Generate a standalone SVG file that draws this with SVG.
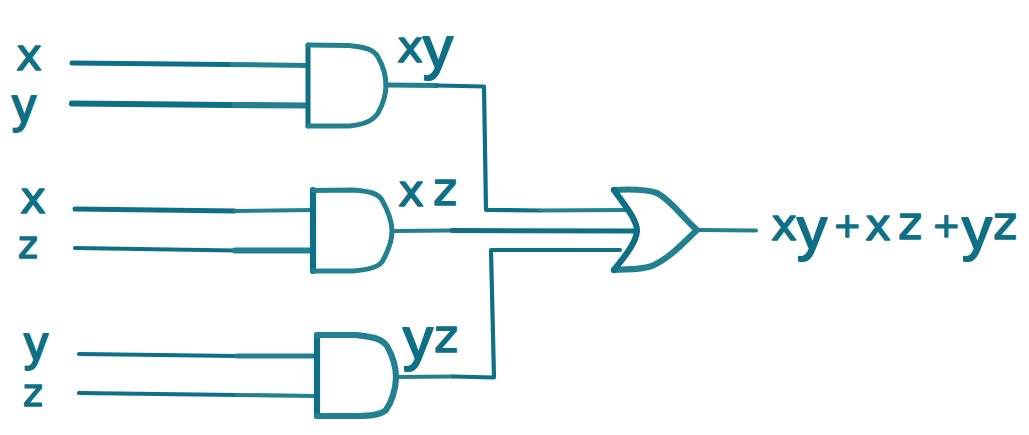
<svg xmlns="http://www.w3.org/2000/svg" width="1029" height="435" viewBox="0 0 1029 435">
<style>
.d{fill:none;stroke:#0f7085;stroke-linecap:round;stroke-linejoin:round}
.l{fill:none;stroke:#24808f;stroke-linecap:round;stroke-linejoin:round}
.w3{stroke-width:4.2}.w4{stroke-width:5}.w5{stroke-width:6.2}
text{font-family:"DejaVu Sans","Liberation Sans",sans-serif;fill:#0f7085;stroke:#0f7085;stroke-width:1.4;stroke-linejoin:round;font-size:44px}
.gy{font-family:"Liberation Sans",Arial,sans-serif;stroke-width:2;font-size:60px}
.iy{font-family:"Liberation Sans",Arial,sans-serif;stroke-width:2;font-size:48px}
.gz{font-size:46px}.iz{font-size:38px}.gp{font-size:34px}
</style>
<rect width="1029" height="435" fill="#ffffff"/>
<g id="connectors">
<path class="l w4" d="M228 64.500L307 65.500"/><path class="d w4" d="M72 63L228 64.500"/>
<path class="l w5" d="M229 105L307 105.500"/><path class="d w5" d="M72 103.500L229 105"/>
<path class="l w4" d="M386 85L437 85.500"/><path class="d w3" d="M437 85.500L484 86.500L486 210L540 210.500"/>
<path class="l w3" d="M540 210.500L625 210"/>
<path class="d w4" d="M75 209L235 211"/><path class="l w3" d="M235 211L313 210"/>
<path class="d w3" d="M75 248L235 250.500"/><path class="l w5" d="M235 250.500L313 250.500"/>
<path class="l w3" d="M393 231L452 230.500"/><path class="d w4" d="M452 230.500L636 231"/>
<path class="d w3" d="M79 354L237 356"/><path class="l w4" d="M237 356L316 356"/>
<path class="d w3" d="M79 393L237 395"/><path class="l w3" d="M237 395L316 396"/>
<path class="l w3" d="M397 377L453 376.500"/><path class="d w3" d="M453 376.500L494 377.500L491 250L620 250"/>
<path class="l w3" d="M697 230L756 230.500"/>
</g>
<g id="and-xy">
<path class="d w4" d="M308 45V126"/>
<path class="l w4" d="M308 45L349 45.500C366 47 374 50 378 57C383 66 386 76 386 85C386 95 382 106 378 113C373 121 362 125 349 126L308 126"/>
<text><tspan x="397" y="62">x</tspan><tspan class="gy" x="423" y="68">y</tspan></text>
</g>
<g id="and-xz">
<path class="d w5" d="M313 190V271"/>
<path class="l w4" d="M313 190.500L353 190C368 191 378 193 382 200C387 209 392 222 392 231C392 243 386 255 382 262C377 268 366 270 353 271L313 271"/>
<text><tspan x="398" y="206">x</tspan><tspan class="gz" x="433" y="205">z</tspan></text>
</g>
<g id="and-yz">
<path class="d w5" d="M317 335V416"/>
<path class="l w5" d="M317 335L356 335C372 337 381 338 387 346C392 355 396 367 396 377C396 390 391 403 386 410C381 415 370 416 357 416L317 416"/>
<text><tspan class="gy" x="403" y="359">y</tspan><tspan class="gz" x="434" y="352">z</tspan></text>
</g>
<g id="or-gate">
<path class="l w5" d="M614 190C630 189 645 189 657 193C672 201 683 218 697 230C683 243 670 258 652 266C640 270 627 269 614 270"/>
<path class="d w5" d="M614 190C626 207 637 220 637 231C636 243 625 256 614 270"/>
<text><tspan x="771" y="240">x</tspan><tspan class="gy" x="797" y="249">y</tspan><tspan class="gp" x="833" y="237">+</tspan><tspan x="865" y="240">x</tspan><tspan class="gz" x="898" y="239">z</tspan><tspan class="gp" x="932" y="237">+</tspan><tspan class="gy" x="962" y="249">y</tspan><tspan class="gz" x="993" y="239">z</tspan></text>
</g>
<g id="inputs">
<text x="16" y="70">x</text>
<text class="iy" x="12" y="122">y</text>
<text x="20" y="213">x</text>
<text class="iz" x="18" y="258">z</text>
<text class="iy" x="24" y="360">y</text>
<text class="iz" x="23" y="406">z</text>
</g>
</svg>
